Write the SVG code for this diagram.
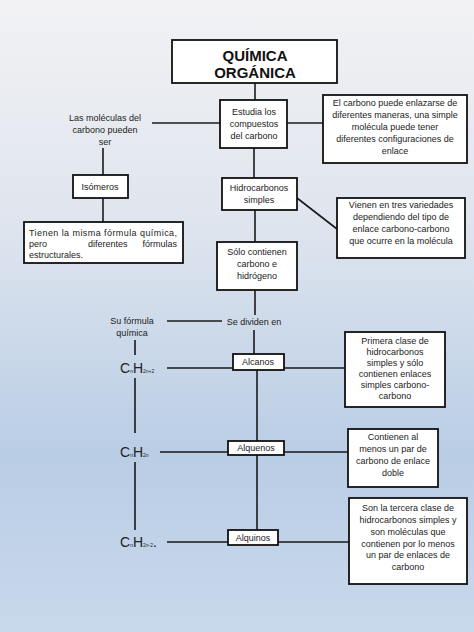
<svg xmlns="http://www.w3.org/2000/svg" width="474" height="632" viewBox="0 0 474 632">
<defs>
<linearGradient id="bg" x1="0" y1="0" x2="0" y2="1">
<stop offset="0" stop-color="#f2f2f4"/>
<stop offset="0.35" stop-color="#dfe5ee"/>
<stop offset="0.72" stop-color="#b9cde5"/>
<stop offset="1" stop-color="#c9d9ec"/>
</linearGradient>
<style>
.box{fill:#fff;stroke:#111;stroke-width:1.8}
.t{font-family:"Liberation Sans",Arial,sans-serif;font-size:9px;fill:#222;text-anchor:middle}
.tl{font-family:"Liberation Sans",Arial,sans-serif;font-size:9px;fill:#222}
.title{font-family:"Liberation Sans",Arial,sans-serif;font-size:15px;font-weight:bold;fill:#111;text-anchor:middle}
.f{font-family:"Liberation Sans",Arial,sans-serif;fill:#222}
.c{fill:none;stroke:#1a1a1a;stroke-width:1.6}
</style>
</defs>
<rect x="0" y="0" width="474" height="632" fill="url(#bg)"/>
<g id="connectors" class="c">
<path d="M255 83V100"/>
<path d="M152 123H220"/>
<path d="M287 123H323"/>
<path d="M103 148V175"/>
<path d="M103 198V222"/>
<path d="M254 148V178"/>
<path d="M297 198L337 229"/>
<path d="M255 210V242"/>
<path d="M255 290V315"/>
<path d="M167 321H222"/>
<path d="M254 330V354"/>
<path d="M135 340V355M135 378V433M135 462V530"/>
<path d="M167 368H233M284 368H345"/>
<path d="M257 370V441"/>
<path d="M160 452H228M284 452H348"/>
<path d="M257 455V530"/>
<path d="M167 542H228M278 542H349"/>
</g>
<g id="title">
<rect class="box" x="172" y="40" width="165" height="43" stroke-width="2"/>
<text class="title" x="255" y="61">QUÍMICA</text>
<text class="title" x="255" y="78">ORGÁNICA</text>
</g>
<g id="estudia">
<rect class="box" x="220" y="100" width="67" height="48"/>
<text class="t" x="254" y="115">Estudia  los</text>
<text class="t" x="254" y="127">compuestos</text>
<text class="t" x="254" y="139">del carbono</text>
</g>
<g id="moleculas">
<text class="t" x="105" y="121" fill="#333">Las moléculas  del</text>
<text class="t" x="105" y="133">carbono pueden</text>
<text class="t" x="105" y="145">ser</text>
</g>
<g id="enlazarse">
<rect class="box" x="323" y="95" width="144" height="68"/>
<text class="t" x="395" y="106">El carbono puede enlazarse de</text>
<text class="t" x="395" y="118">diferentes  maneras, una simple</text>
<text class="t" x="395" y="130">molécula  puede  tener</text>
<text class="t" x="395" y="142">diferentes configuraciones de</text>
<text class="t" x="395" y="154">enlace</text>
</g>
<g id="isomeros">
<rect class="box" x="73" y="175" width="55" height="23"/>
<text class="t" x="100" y="190">Isómeros</text>
</g>
<g id="tienen">
<rect class="box" x="24" y="222" width="159" height="41"/>
<text class="tl" x="29" y="236" textLength="148" lengthAdjust="spacing">Tienen la misma fórmula química,</text>
<text class="tl" x="29" y="247">pero</text>
<text class="tl" x="88" y="247">diferentes</text>
<text class="tl" x="177" y="247" text-anchor="end">fórmulas</text>
<text class="tl" x="29" y="258">estructurales.</text>
</g>
<g id="hidrocarbonos">
<rect class="box" x="222" y="178" width="75" height="32"/>
<text class="t" x="259" y="191">Hidrocarbonos</text>
<text class="t" x="259" y="203">simples</text>
</g>
<g id="vienen">
<rect class="box" x="337" y="198" width="128" height="60"/>
<text class="t" x="401" y="208">Vienen en tres variedades</text>
<text class="t" x="401" y="220">dependiendo  del tipo de</text>
<text class="t" x="401" y="232">enlace carbono-carbono</text>
<text class="t" x="401" y="244">que ocurre en la molécula</text>
</g>
<g id="solo">
<rect class="box" x="217" y="242" width="80" height="48"/>
<text class="t" x="257" y="255">Sólo contienen</text>
<text class="t" x="257" y="267">carbono e</text>
<text class="t" x="257" y="279">hidrógeno</text>
</g>
<g id="sedividen">
<text class="t" x="254" y="325">Se dividen en</text>
</g>
<g id="formula">
<text class="t" x="132" y="324">Su fórmula</text>
<text class="t" x="132" y="336">química</text>
</g>
<g id="alcanos">
<rect class="box" x="233" y="354" width="51" height="16"/>
<text class="t" x="258" y="365">Alcanos</text>
</g>
<g id="f-alcanos">
<text class="f" x="120" y="373" font-size="14">C<tspan font-size="5">n</tspan>H<tspan font-size="5">2n+2</tspan></text>
</g>
<g id="primera">
<rect class="box" x="345" y="332" width="100" height="75"/>
<text class="t" x="395" y="344">Primera clase de</text>
<text class="t" x="395" y="355">hidrocarbonos</text>
<text class="t" x="395" y="366">simples y sólo</text>
<text class="t" x="395" y="377">contienen enlaces</text>
<text class="t" x="395" y="388">simples carbono-</text>
<text class="t" x="395" y="399">carbono</text>
</g>
<g id="alquenos">
<rect class="box" x="228" y="441" width="56" height="14"/>
<text class="t" x="256" y="451">Alquenos</text>
</g>
<g id="f-alquenos">
<text class="f" x="120" y="457" font-size="14">C<tspan font-size="5">n</tspan>H<tspan font-size="5">2n</tspan></text>
</g>
<g id="contienen">
<rect class="box" x="348" y="429" width="90" height="58"/>
<text class="t" x="393" y="440">Contienen al</text>
<text class="t" x="393" y="452">menos un par de</text>
<text class="t" x="393" y="464">carbono de enlace</text>
<text class="t" x="393" y="476">doble</text>
</g>
<g id="alquinos">
<rect class="box" x="228" y="530" width="50" height="15"/>
<text class="t" x="253" y="541">Alquinos</text>
</g>
<g id="f-alquinos">
<text class="f" x="120" y="547" font-size="14">C<tspan font-size="5">n</tspan>H<tspan font-size="5">2n-2</tspan>.</text>
</g>
<g id="tercera">
<rect class="box" x="349" y="498" width="118" height="86"/>
<text class="t" x="408" y="511">Son la tercera clase de</text>
<text class="t" x="408" y="523">hidrocarbonos  simples y</text>
<text class="t" x="408" y="535">son moléculas que</text>
<text class="t" x="408" y="547">contienen por lo menos</text>
<text class="t" x="408" y="558">un par de enlaces de</text>
<text class="t" x="408" y="570">carbono</text>
</g>
</svg>
